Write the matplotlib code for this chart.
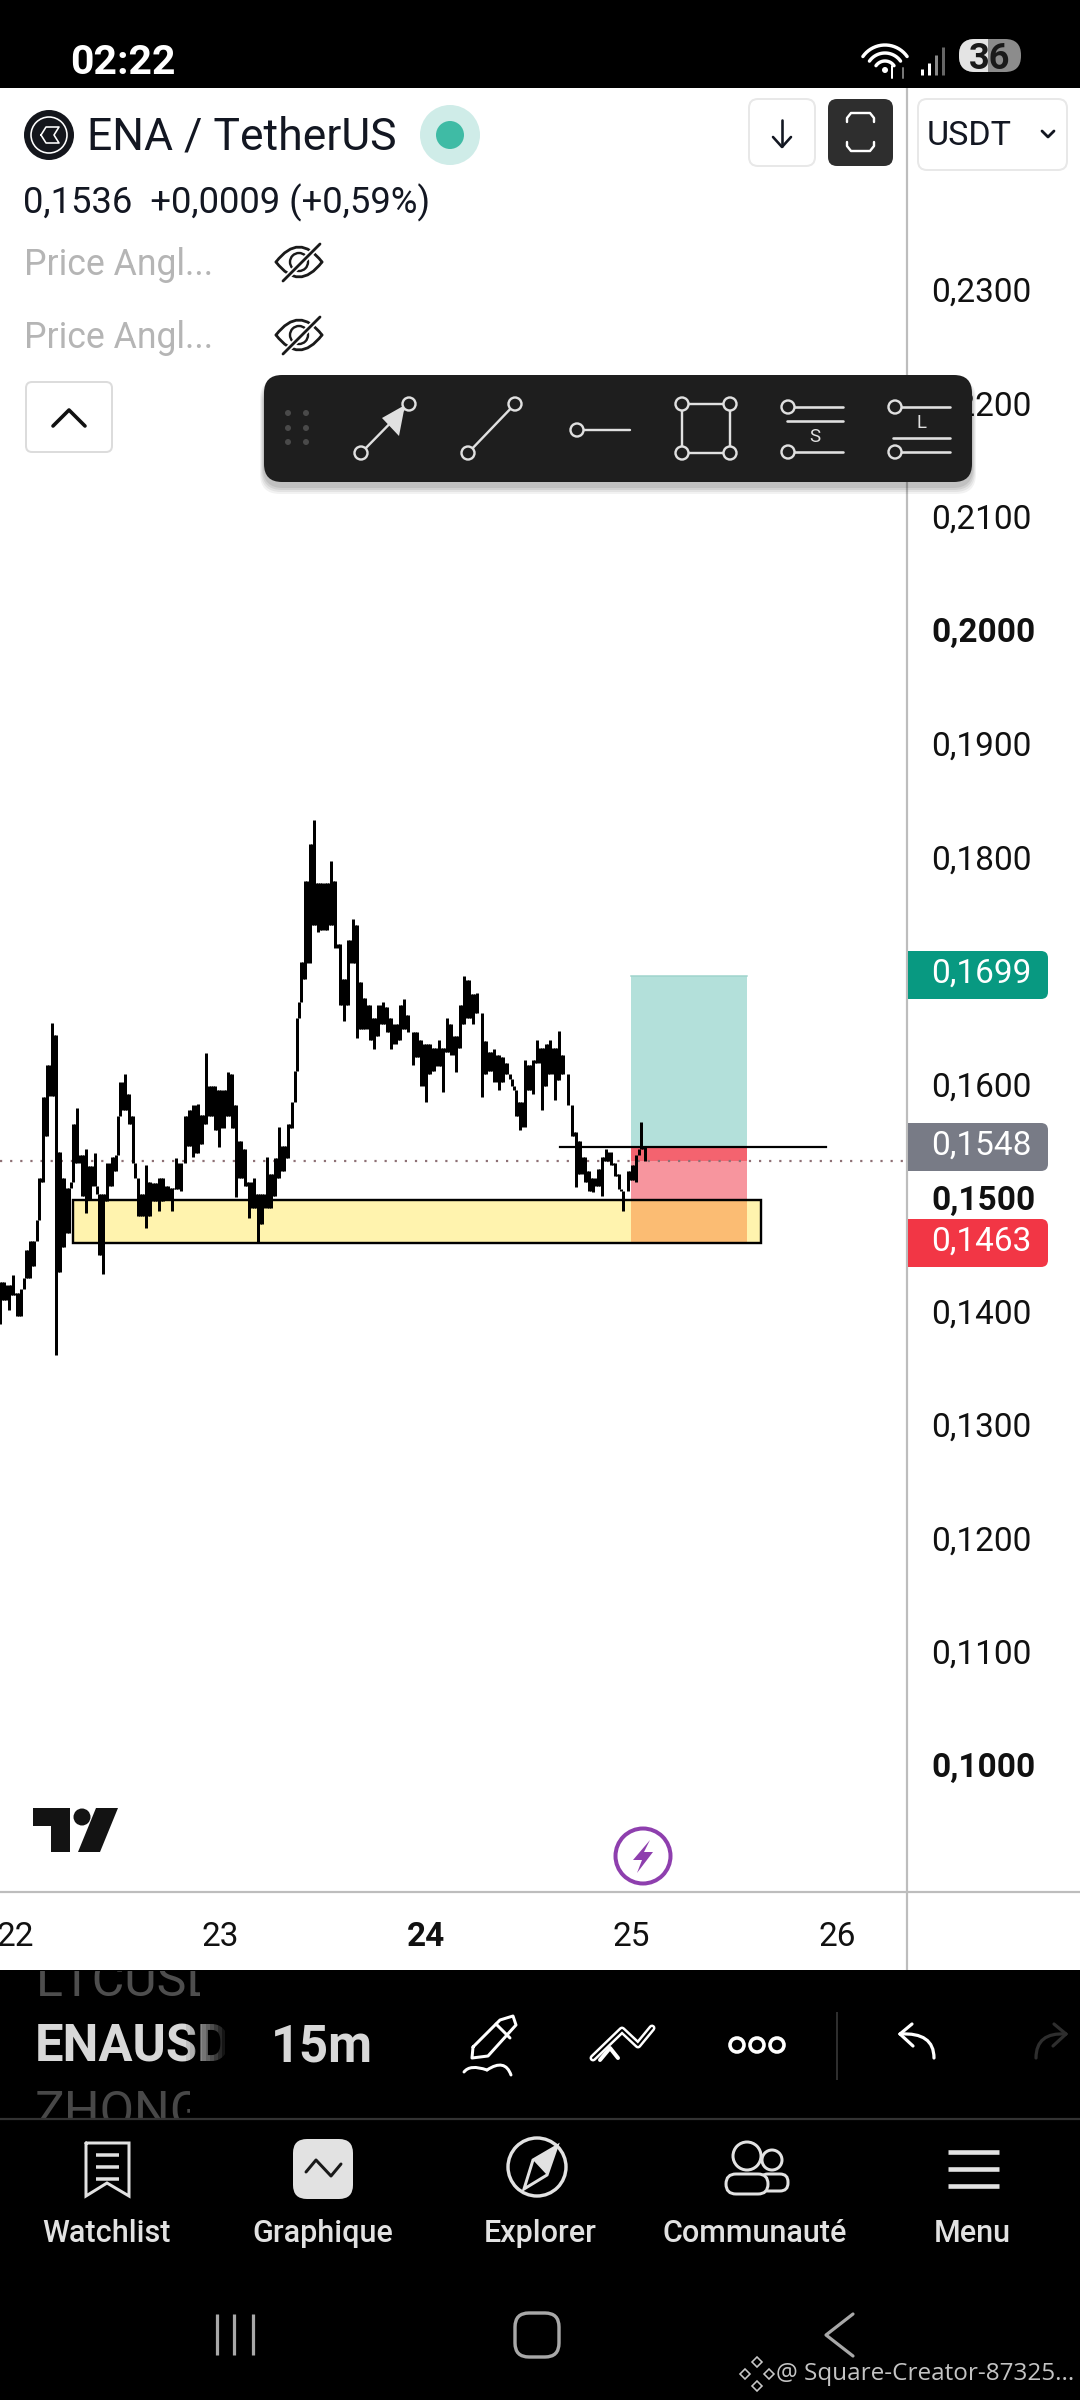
import numpy as np
import matplotlib
matplotlib.use("Agg")
import matplotlib.pyplot as plt
from matplotlib.patches import FancyBboxPatch, Circle, Rectangle, Polygon, PathPatch
from matplotlib.path import Path
from matplotlib.lines import Line2D
from matplotlib.ticker import FixedLocator, FixedFormatter
from matplotlib.transforms import ScaledTranslation

plt.rcParams['font.family'] = ['Roboto', 'DejaVu Sans']

# ---------- data ----------
high = [.1429,.1429,.1426,.1435,.1419,.1423,.1457,.1465,.1465,.1521,
        .1592,.1620,.1657,.1647,.1544,.1521,.1512,.1568,.1582,.1541,
        .1546,.1531,.1543,.1507,.1507,.1534,.1539,.1541,.1605,.1612,
        .1595,.1575,.1521,.1507,.1532,.1517,.1516,.1521,.1521,.1514,
        .1512,.1538,.1534,.1575,.1581,.1585,.1586,.1576,.1631,.1602,
        .1602,.1598,.1598,.1614,.1612,.1585,.1553,.1546,.1517,.1521,
        .1507,.1507,.1539,.1524,.1538,.1566,.1549,.1568,.1588,.1662,
        .1711,.1782,.1815,.1836,.1781,.1781,.1781,.1800,.1782,.1727,
        .1696,.1730,.1749,.1744,
        .1693,.1679,.1673,.1662,.1673,.1676,.1671,.1662,.1656,.1673,
        .1678,.1664,.1649,.1649,.1642,.1639,.1639,.1635,.1642,.1635,
        .1662,.1656,.1646,.1673,.1699,.1695,.1683,.1684,.1666,.1641,
        .1632,.1634,.1629,.1627,.1622,.1608,.1598,.1588,.1625,.1620,
        .1625,.1642,.1635,.1639,.1642,.1635,.1650,.1629,.1612,.1585,
        .1561,.1553,.1539,.1527,.1521,.1529,.1539,.1546,.1544,.1534,
        .1524,.1509,.1527,.1532,.1541,.1570,.1549]
low = [.1392,.1413,.1404,.1418,.1399,.1399,.1433,.1433,.1443,.1484,
       .1517,.1558,.1593,.1365,.1438,.1460,.1472,.1517,.1534,.1505,
       .1490,.1502,.1514,.1453,.1436,.1500,.1514,.1527,.1575,.1581,
       .1568,.1534,.1487,.1487,.1477,.1487,.1500,.1492,.1500,.1502,
       .1492,.1511,.1509,.1534,.1549,.1539,.1543,.1551,.1568,.1575,
       .1563,.1548,.1565,.1575,.1565,.1504,.1521,.1514,.1485,.1494,
       .1463,.1480,.1494,.1494,.1505,.1521,.1527,.1538,.1565,.1615,
       .1676,.1696,.1710,.1744,.1737,.1739,.1739,.1744,.1723,.1673,
       .1659,.1673,.1710,.1644,
       .1652,.1652,.1642,.1634,.1646,.1656,.1649,.1634,.1639,.1642,
       .1652,.1649,.1620,.1627,.1602,.1588,.1612,.1615,.1619,.1596,
       .1632,.1629,.1614,.1635,.1656,.1662,.1656,.1666,.1592,.1612,
       .1615,.1605,.1598,.1605,.1612,.1602,.1575,.1563,.1566,.1598,
       .1595,.1622,.1581,.1602,.1612,.1589,.1607,.1612,.1585,.1558,
       .1513,.1524,.1517,.1509,.1508,.1514,.1505,.1536,.1532,.1522,
       .1511,.1492,.1509,.1519,.1517,.1546,.1536]
first_bar_day = 21.927
bar_days = 0.020925

day_ticks = [22, 23, 24, 25, 26]
day_labels = ['22', '23', '24', '25', '26']
price_ticks = [.23, .22, .21, .20, .19, .18, .16, .15, .14, .13, .12, .11, .10]
price_labels = ['0,2300', '0,2200', '0,2100', '0,2000', '0,1900', '0,1800', '0,1600',
                '0,1500', '0,1400', '0,1300', '0,1200', '0,1100', '0,1000']
bold_prices = ['0,2000', '0,1500', '0,1000']

last_price = .1536
entry_price, target_price, stop_price = .1548, .1699, .1463
position_days = (25.0, 25.562)
entry_line_days = (24.652, 25.946)
zone_days = (22.282, 25.63)
zone_prices = (.1463, .1501)

GREEN, GREY, RED = '#089981', '#787B86', '#F23645'

# ---------- figure ----------
W, H = 1080, 2400
fig = plt.figure(figsize=(W / 100, H / 100), dpi=100, facecolor='white')
PX = 0.72

ax = fig.add_axes([0, 1 - 1892 / H, 907 / W, (1892 - 88) / H], zorder=1)
ax.set_xlim(21.927, 26.341)
ax.set_ylim(.08916, .24810)
for s in ax.spines.values():
    s.set_visible(False)

# zone + position
ax.add_patch(Rectangle((zone_days[0], zone_prices[0]), zone_days[1] - zone_days[0],
                       zone_prices[1] - zone_prices[0], fc='#FFF3AE', ec='none', zorder=1))
pw = position_days[1] - position_days[0]
ax.add_patch(Rectangle((position_days[0], entry_price), pw, target_price - entry_price,
                       fc='#B3E0DA', ec='none', zorder=2))
ax.plot(position_days, [target_price] * 2, color='#9FD4CC', lw=1.5 * PX, zorder=2)
ax.add_patch(Rectangle((position_days[0], stop_price), pw, entry_price - stop_price,
                       fc='#F7959E', ec='none', zorder=2))
ax.add_patch(Rectangle((position_days[0], zone_prices[0]), pw, zone_prices[1] - zone_prices[0],
                       fc='#FBBC73', ec='none', zorder=2.1))
ax.add_patch(Rectangle((position_days[0], last_price), pw, entry_price - last_price,
                       fc='#F4636F', ec='none', zorder=2.2))
ax.add_patch(Rectangle((zone_days[0], zone_prices[0]), zone_days[1] - zone_days[0],
                       zone_prices[1] - zone_prices[0], fc='none', ec='black',
                       lw=2.4 * PX, zorder=3))

# last price dotted line
ax.axhline(last_price, color='#8E7075', lw=2.2 * PX, dashes=(1, 3.6), zorder=3)

# candles: each bar plus the trace joining it to the next one
hi, lo = np.array(high), np.array(low)
t = first_bar_day + np.arange(len(hi)) * bar_days
ax.vlines(t, lo, hi, color='black', lw=3 * PX, zorder=4)
mid = (t[:-1] + t[1:]) / 2
top = np.minimum(hi[:-1], hi[1:])
bot = np.maximum(lo[:-1], lo[1:])
ax.vlines(mid, np.minimum(top, bot), np.maximum(top, bot), color='black', lw=3 * PX, zorder=4)

# entry line
ax.plot(entry_line_days, [entry_price] * 2, color='black', lw=2.2 * PX, zorder=5)

# axes ticks
ax.xaxis.set_major_locator(FixedLocator(day_ticks))
ax.xaxis.set_major_formatter(FixedFormatter(day_labels))
ax.yaxis.set_major_locator(FixedLocator(price_ticks))
ax.yaxis.set_major_formatter(FixedFormatter(price_labels))
ax.yaxis.tick_right()
ax.tick_params(axis='both', length=0, labelsize=24, colors='#111111')
ax.tick_params(axis='y', pad=17.2)
ax.tick_params(axis='x', pad=21)
off = ScaledTranslation(0, 4 / 100, fig.dpi_scale_trans)
for lab, txt in zip(ax.get_yticklabels(), price_labels):
    lab.set_transform(lab.get_transform() + off)
    if txt in bold_prices:
        lab.set_fontweight('bold')
for lab, txt in zip(ax.get_xticklabels(), day_labels):
    if txt == '24':
        lab.set_fontweight('bold')

# ---------- UI overlay in pixel units ----------
ov = fig.add_axes([0, 0, 1, 1], zorder=5)
ov.set_xlim(0, W)
ov.set_ylim(H, 0)
ov.axis('off')
ov.patch.set_alpha(0)


def rrect(x0, y0, x1, y1, r, fc='none', ec='none', lw=0, z=2, alpha=None):
    p = FancyBboxPatch((x0, y0), x1 - x0, y1 - y0, boxstyle=f'round,pad=0,rounding_size={r}',
                       fc=fc, ec=ec, lw=lw * PX, zorder=z, alpha=alpha)
    ov.add_patch(p)
    return p


def line(pts, color='white', lw=3, z=3, cap='round', join='round'):
    xs, ys = zip(*pts)
    ov.add_line(Line2D(xs, ys, color=color, lw=lw * PX, zorder=z, solid_capstyle=cap,
                       solid_joinstyle=join))


def circ(x, y, r, fc='none', ec='none', lw=0, z=3):
    ov.add_patch(Circle((x, y), r, fc=fc, ec=ec, lw=lw * PX, zorder=z))


def rect(x0, y0, x1, y1, fc, z=1, alpha=None):
    ov.add_patch(Rectangle((x0, y0), x1 - x0, y1 - y0, fc=fc, ec='none', zorder=z, alpha=alpha))


def text(x, y, s, size, color='black', ha='left', va='center', weight='normal', z=4, family=None):
    kw = {'family': family} if family else {}
    return ov.text(x, y, s, fontsize=size, color=color, ha=ha, va=va, fontweight=weight,
                   zorder=z, **kw)


def clip(artist, x0, y0, x1, y1):
    artist.set_clip_on(True)
    artist.set_clip_path(Rectangle((x0, y0), x1 - x0, y1 - y0, transform=ov.transData))


def curve(pts, color, lw, z=3):
    codes = [Path.MOVETO] + [Path.CURVE3] * (len(pts) - 1)
    ov.add_patch(PathPatch(Path(pts, codes), fc='none', ec=color, lw=lw * PX, zorder=z,
                           capstyle='round'))


# bands and separators
rect(0, 0, W, 88, 'black')
rect(0, 1970, W, H, 'black', z=1)
line([(0, 1892), (W, 1892)], '#BDBDBD', 2.2, z=1, cap='butt')
line([(907, 88), (907, 1970)], '#BDBDBD', 2.2, z=1, cap='butt')

# status bar
text(70, 63, '02:22', 29.5, 'white', weight='bold')
for r in (27, 19, 11):
    a = np.linspace(np.radians(215), np.radians(325), 20)
    line(list(zip(885 + r * np.cos(a), 72 + r * np.sin(a))), 'white', 3.4)
circ(885, 70, 3, 'white')
line([(892, 66), (892, 78)], 'white', 2)
line([(903, 68), (903, 78)], '#777777', 2)
for i, (x, h_, c) in enumerate([(922, 6, 'white'), (929, 12, 'white'), (936, 20, '#888888'), (943, 28, '#666666')]):
    line([(x, 75), (x, 75 - h_)], c, 3, cap='butt')
rrect(959, 39, 1021, 72, 16, fc='#8C8C8C')
p = rrect(959, 39, 1021, 72, 16, fc='#E4E4E4', z=2.1)
p.set_clip_path(Rectangle((959, 39), 29, 33, transform=ov.transData))
text(990, 59, '36', 26, '#1A1A1A', ha='center', weight='bold')

# symbol row
circ(49, 135, 25, '#14161C')
circ(49, 135, 18, 'none', 'white', 1.6)
line([(41, 135), (46, 127), (59, 127), (54, 135), (59, 143), (46, 143), (41, 135)], 'white', 1.6)
text(87, 138, 'ENA / TetherUS', 32, '#131722')
circ(450, 135, 30, '#CFECE8')
circ(450, 135, 14, '#3FBBA5')
rrect(749, 99, 815, 166, 9, fc='white', ec='#E8E8E8', lw=2)
line([(782, 120), (782, 146)], '#131722', 2.6)
line([(773, 137), (782, 147), (791, 137)], '#131722', 2.6)
rrect(828, 99, 893, 166, 9, fc='#2E2E2E')
line([(847, 122), (847, 118), (851, 113), (870, 113), (874, 118), (874, 122)], 'white', 2.4)
line([(847, 142), (847, 146), (851, 151), (870, 151), (874, 146), (874, 142)], 'white', 2.4)
rrect(918, 99, 1067, 170, 9, fc='white', ec='#E8E8E8', lw=2)
text(927, 136, 'USDT', 24.5, '#131722')
line([(1042, 131), (1048, 137), (1054, 131)], '#131722', 2.8)

# OHLC row
text(23, 203, '0,1536  +0,0009 (+0,59%)', 26.2, '#131722')

# indicators
for y in (262, 335):
    text(24, y + 3, 'Price Angl...', 25.7, '#B5B5B5')
    curve([(276, y), (299, y - 30), (322, y)], '#1A1A1A', 2.8)
    curve([(276, y), (299, y + 30), (322, y)], '#1A1A1A', 2.8)
    circ(299, y, 9, 'none', '#1A1A1A', 2.4)
    line([(320, y - 18), (283, y + 19)], 'white', 6, z=3.1)
    line([(320, y - 18), (283, y + 19)], '#1A1A1A', 2.8, z=3.2)

# collapse button
rrect(26, 382, 112, 452, 6, fc='white', ec='#DCDCDC', lw=2)
line([(53, 426), (69, 410), (85, 426)], '#111111', 3.6)

# drawing toolbar
for i, a in enumerate((.05, .06, .07, .08)):
    rrect(264 - 4 + i, 375 + 4 + i, 972 + 4 - i, 482 + 12 - 2 * i, 20, fc='black', z=2, alpha=a)
rrect(264, 375, 972, 482, 18, fc='#1E1E1E', z=2.5)
for x in (288, 306):
    for y in (413, 428, 442):
        circ(x, y, 3, '#4A4A4A', z=3)
TC = '#E0E0E0'


def node(x, y):
    circ(x, y, 6.5, '#1E1E1E', TC, 2.4, z=3.5)


line([(361, 453), (409, 404)], TC, 2.4)
ov.add_patch(Polygon([(405, 405), (399, 436), (382, 418)], fc=TC, ec='none', zorder=3.2))
node(361, 453); node(409, 404)
line([(468, 453), (515, 404)], TC, 2.4)
node(468, 453); node(515, 404)
line([(577, 430), (630, 430)], TC, 2.4)
node(577, 430)
line([(682, 404), (730, 404), (730, 453), (682, 453), (682, 404)], TC, 2.4, join='miter')
for xx, yy in [(682, 404), (730, 404), (682, 453), (730, 453)]:
    node(xx, yy)
line([(788, 407), (843, 407)], TC, 2.6)
line([(787, 421), (843, 421)], TC, 2.6)
line([(788, 452), (843, 452)], TC, 2.6)
node(788, 407); node(788, 452)
text(815, 437, 'S', 13.5, TC, ha='center')
line([(895, 407), (950, 407)], TC, 2.6)
line([(893, 438), (950, 438)], TC, 2.6)
line([(895, 452), (950, 452)], TC, 2.6)
node(895, 407); node(895, 452)
text(921, 423, 'L', 13.5, TC, ha='center')

# price badges
for y0, y1, col, s in [(951, 999, GREEN, '0,1699'), (1123, 1171, GREY, '0,1548'), (1219, 1267, RED, '0,1463')]:
    rrect(908, y0, 1048, y1, 7, fc=col, z=2)
    rect(908, y0, 920, y1, col, z=2)
    text(931, (y0 + y1) / 2 - 1.5, s, 24, 'white', z=4)

# TradingView logo
ov.add_patch(Polygon([(33, 1808), (70, 1808), (70, 1852), (51, 1852), (51, 1826), (33, 1826)], fc='#131313', ec='none', zorder=3))
circ(82, 1817, 8.5, '#131313')
ov.add_patch(Polygon([(96, 1808), (118, 1808), (100, 1852), (78, 1852)], fc='#131313', ec='none', zorder=3))

# lightning icon
circ(643, 1856, 27.5, 'white', '#8E3FAE', 4)
ov.add_patch(Polygon([(650, 1840), (633, 1860), (642, 1860), (637, 1873), (653, 1852), (644, 1852)], fc='#8E3FAE', ec='none', zorder=3.5))

# symbol strip
t1 = text(36, 1982, 'LTCUSD', 36, '#4E4E4E')
clip(t1, 0, 1971, 200, 2031)
t2 = text(35, 2047, 'ENAUSD', 36.5, '#D8D8D8', weight='bold')
clip(t2, 0, 2000, 225, 2090)
for i, x in enumerate(range(186, 226, 4)):
    rect(x, 2015, x + 4, 2075, 'black', z=5, alpha=min(1, .1 + i * .09))
text(271, 2047, '15m', 36.5, '#D8D8D8', weight='bold')
t3 = text(35, 2113, 'ZHONG', 36, '#484848')
clip(t3, 0, 2085, 190, 2118)
line([(0, 2119), (W, 2119)], '#333333', 2.2, z=6, cap='butt')

# strip icons
line([(473, 2047), (500, 2020), (513, 2016), (516, 2025), (488, 2056), (472, 2058), (473, 2047)], 'white', 3)
line([(496, 2024), (510, 2038)], 'white', 3)
curve([(464, 2072), (470, 2064), (487, 2070)], 'white', 3)
curve([(487, 2070), (505, 2058), (511, 2075)], 'white', 3)
line([(593, 2058), (622, 2030), (638, 2045), (652, 2028)], 'white', 7)
line([(593, 2058), (622, 2030), (638, 2045), (652, 2028)], 'black', 2, z=3.1)
line([(600, 2060), (610, 2048), (618, 2058)], 'white', 4)
for x in (737, 757, 777):
    circ(x, 2045, 7, 'black', 'white', 3.6)
line([(837, 2012), (837, 2080)], '#2E2E2E', 2, cap='butt')
line([(900, 2034), (913, 2046)], 'white', 3.2)
line([(900, 2034), (912, 2024)], 'white', 3.2)
curve([(900, 2034), (934, 2032), (934, 2058)], 'white', 3.2)
line([(1066, 2034), (1053, 2046)], '#2E2E2E', 3.2)
line([(1066, 2034), (1054, 2024)], '#2E2E2E', 3.2)
curve([(1066, 2034), (1036, 2032), (1036, 2058)], '#2E2E2E', 3.2)

# tab bar
TAB = '#E2E2E2'
line([(86, 2143), (129, 2143), (129, 2196), (107, 2183), (86, 2196), (86, 2143)], TAB, 3, join='miter')
for y in (2155, 2167, 2179):
    line([(96, y), (119, y)], TAB, 3.5, cap='butt')
rrect(293, 2139, 353, 2199, 14, fc=TAB, z=3)
line([(306, 2172), (316, 2160), (331, 2176), (341, 2164)], '#1A1A1A', 3, z=3.5)
circ(537, 2167, 29, 'none', TAB, 3.4)
ov.add_patch(Polygon([(557, 2146), (547, 2175), (524, 2189), (533, 2160)], fc='none', ec=TAB, lw=3 * PX, zorder=3))
ov.add_patch(Polygon([(557, 2146), (547, 2175), (533, 2160)], fc=TAB, ec='none', zorder=3))
circ(747, 2156, 14, 'none', TAB, 3)
circ(772, 2160, 10, 'none', TAB, 3)
rrect(726, 2174, 768, 2194, 10, fc='black', ec=TAB, lw=3, z=3.2)
rrect(760, 2174, 788, 2191, 8, fc='none', ec=TAB, lw=3, z=3)
for y in (2152, 2169, 2186):
    line([(948, y), (999, y)], TAB, 4.6, cap='butt')
for x, s in [(107, 'Watchlist'), (323, 'Graphique'), (540, 'Explorer'), (755, 'Communauté'), (972, 'Menu')]:
    text(x, 2234, s, 22, TAB, ha='center', weight='medium')

# nav bar
NAV = '#A8A8A8'
for x in (217, 234, 253):
    line([(x, 2314), (x, 2355)], NAV, 3.2, cap='butt')
rrect(515, 2313, 559, 2357, 14, ec=NAV, lw=3.4, z=3)
line([(853, 2314), (826, 2335), (853, 2356)], NAV, 3.2)

# watermark
for dx, dy in [(0, -12), (-12, 0), (12, 0), (0, 12)]:
    ov.add_patch(Polygon([(757 + dx, 2374 + dy - 5), (757 + dx + 5, 2374 + dy), (757 + dx, 2374 + dy + 5), (757 + dx - 5, 2374 + dy)], fc='none', ec='#C8C8C8', lw=1.6 * PX, zorder=3))
text(776, 2374, '@ Square-Creator-87325...', 17.5, '#C4C4C4', family=['Open Sans', 'DejaVu Sans'])

fig.savefig('out.png', dpi=100, facecolor='white')
